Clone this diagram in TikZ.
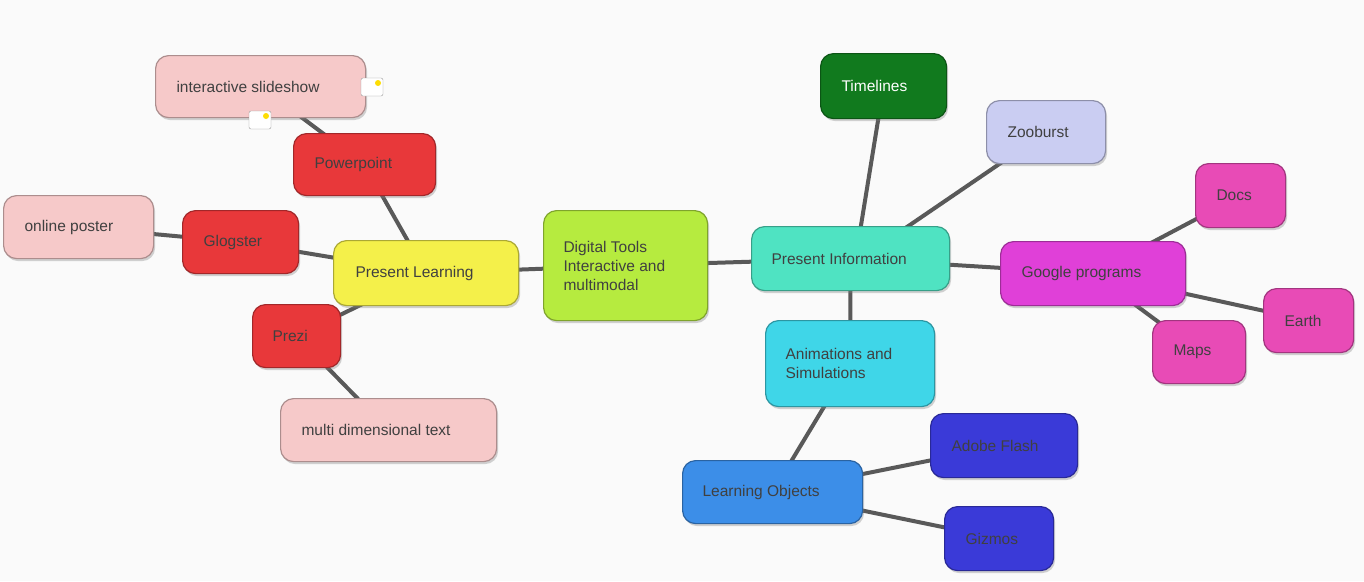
\documentclass[tikz,border=0pt]{standalone}
\usepackage{fontspec}
\setmainfont{Liberation Sans}
\usetikzlibrary{shadows}
\pgfdeclarelayer{bg}\pgfsetlayers{bg,main}
\begin{document}
\begin{tikzpicture}[x=1pt,y=-1pt,
 box/.style={draw=#1!70!black,line width=1.2pt,rounded corners=13pt,fill=#1,
   drop shadow={shadow xshift=1.5pt,shadow yshift=-2.5pt,opacity=.35},
   anchor=north west,inner sep=0pt},
 link/.style={draw=black!65,line width=4pt},
 lb/.style={font=\fontsize{15.5}{19}\selectfont,text=black!75,align=left,anchor=west}]
\definecolor{lp}{HTML}{F6C9C9}\definecolor{rd}{HTML}{E8383A}\definecolor{yl}{HTML}{F4F04A}
\definecolor{lg}{HTML}{B6EB3F}\definecolor{aq}{HTML}{4FE3C2}\definecolor{dg}{HTML}{117A1E}
\definecolor{lv}{HTML}{CACDF2}\definecolor{mg}{HTML}{E040D8}\definecolor{pk}{HTML}{E84BB6}
\definecolor{cy}{HTML}{3FD6E8}\definecolor{bl}{HTML}{3C8EE8}\definecolor{db}{HTML}{3A3AD8}
\begin{pgfonlayer}{bg}
\fill[black!2] (0,0) rectangle (1364,581);
\end{pgfonlayer}
% nodes
\node[box=lp,minimum width=210,minimum height=62] (is) at (155,55) {};
\node[box=rd,minimum width=142,minimum height=62] (pp) at (293,133) {};
\node[box=lp,minimum width=150,minimum height=63] (op) at (3,195) {};
\node[box=rd,minimum width=116,minimum height=63] (gl) at (182,210) {};
\node[box=yl,minimum width=185,minimum height=65] (pl) at (333,240) {};
\node[box=rd,minimum width=88,minimum height=63] (pz) at (252,304) {};
\node[box=lp,minimum width=216,minimum height=63] (md) at (280,398) {};
\node[box=lg,minimum width=164,minimum height=110] (dt) at (543,210) {};
\node[box=aq,minimum width=198,minimum height=64] (pi) at (751,226) {};
\node[box=dg,minimum width=126,minimum height=65] (tl) at (820,53) {};
\node[box=lv,minimum width=119,minimum height=63] (zb) at (986,100) {};
\node[box=mg,minimum width=185,minimum height=64] (gp) at (1000,241) {};
\node[box=pk,minimum width=90,minimum height=64] (dc) at (1195,163) {};
\node[box=pk,minimum width=90,minimum height=64] (ea) at (1263,288) {};
\node[box=pk,minimum width=93,minimum height=63] (mp) at (1152,320) {};
\node[box=cy,minimum width=169,minimum height=86] (an) at (765,320) {};
\node[box=bl,minimum width=180,minimum height=63] (lo) at (682,460) {};
\node[box=db,minimum width=147,minimum height=64] (af) at (930,413) {};
\node[box=db,minimum width=109,minimum height=64] (gz) at (944,506) {};
% links
\begin{pgfonlayer}{bg}
\path[link] (is.center) -- (pp.center);
\path[link] (pp.center) -- (pl.center);
\path[link] (op.center) -- (gl.center);
\path[link] (gl.center) -- (pl.center);
\path[link] (pz.center) -- (pl.center);
\path[link] (pz.center) -- (md.center);
\path[link] (pl.center) -- (dt.center);
\path[link] (dt.center) -- (pi.center);
\path[link] (tl.center) -- ([xshift=5]pi.center);
\path[link] (zb.center) -- ([xshift=10]pi.center);
\path[link] (pi.center) -- (gp.center);
\path[link] (gp.center) -- (dc.center);
\path[link] (gp.center) -- (ea.center);
\path[link] (gp.center) -- (mp.center);
\path[link] (pi.center) -- (an.center);
\path[link] (an.center) -- (lo.center);
\path[link] (lo.center) -- (af.center);
\path[link] (lo.center) -- (gz.center);
\end{pgfonlayer}
% labels
\node[lb] at ([xshift=18]is.west) {interactive slideshow};
\node[lb] at ([xshift=18]pp.west) {Powerpoint};
\node[lb] at ([xshift=18]op.west) {online poster};
\node[lb] at ([xshift=18]gl.west) {Glogster};
\node[lb] at ([xshift=19]pl.west) {Present Learning};
\node[lb] at ([xshift=17]pz.west) {Prezi};
\node[lb] at ([xshift=17]dt.west) {Digital Tools\\Interactive and\\multimodal};
\node[lb] at ([xshift=18]md.west) {multi dimensional text};
\node[lb] at ([xshift=17]pi.west) {Present Information};
\node[lb,text=white] at ([xshift=18]tl.west) {Timelines};
\node[lb] at ([xshift=18]zb.west) {Zooburst};
\node[lb] at ([xshift=18]gp.west) {Google programs};
\node[lb] at ([xshift=18]dc.west) {Docs};
\node[lb] at ([xshift=18]ea.west) {Earth};
\node[lb] at ([xshift=18]mp.west) {Maps};
\node[lb] at ([xshift=17]an.west) {Animations and\\Simulations};
\node[lb] at ([xshift=17]lo.west) {Learning Objects};
\node[lb] at ([xshift=18]af.west) {Adobe Flash};
\node[lb] at ([xshift=18]gz.west) {Gizmos};
% note icons
\node[draw=black!40,fill=white,rounded corners=2pt,minimum width=22,minimum height=18,anchor=center] (n1) at (372,87) {};
\fill[yellow!80!orange] (378,83) circle (3);
\node[draw=black!40,fill=white,rounded corners=2pt,minimum width=22,minimum height=18,anchor=center] (n2) at (260,120) {};
\fill[yellow!80!orange] (266,116) circle (3);
\useasboundingbox (0,0) rectangle (1364,581);
\end{tikzpicture}
\end{document}
